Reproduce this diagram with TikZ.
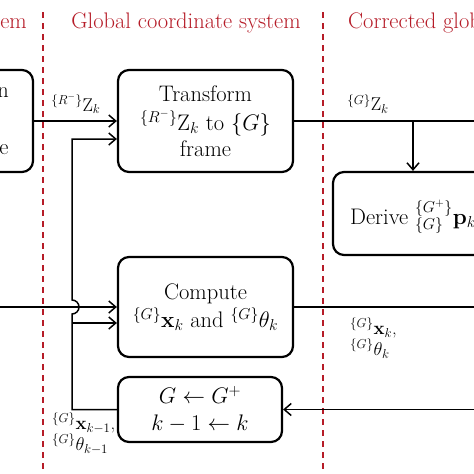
\RequirePackage{fix-cm}
\documentclass[tikz,border=0pt]{standalone}
\usetikzlibrary{arrows.meta}
\definecolor{dred}{RGB}{182,28,40}
\tikzset{
 box/.style={draw, line width=2.2pt, rounded corners=11pt, inner sep=0pt, align=center, font=\fontsize{22.5}{27}\selectfont},
 txt/.style={inner sep=0pt, font=\fontsize{22.5}{27}\selectfont},
 conn/.style={line width=1.5pt},
 arr/.style={conn, -{Straight Barb[length=7pt,width=12pt]}},
 lbl/.style={font=\fontsize{18.5}{21}\selectfont, inner sep=0pt, align=left},
 ttl/.style={text=dred, font=\fontsize{22.5}{26}\selectfont, inner sep=0pt},
 sep/.style={draw=dred, line width=1.5pt, dash pattern=on 6pt off 5pt}
}
\begin{document}
\begin{tikzpicture}[x=1pt,y=-1pt]
\useasboundingbox (0,0) rectangle (474,474);
\clip (0,0) rectangle (474,474);
\fill[white] (0,0) rectangle (474,474);
% titles
\node[ttl, anchor=base east] (t1) at (27,28) {em};
\node[ttl, anchor=base] (t2) at (186,28) {Global coordinate system};
\node[ttl, anchor=base west] (t3) at (348,28) {Corrected global coordinate system};
% separators
\draw[sep] (43,12) -- (43,472);
\draw[sep] (323,12) -- (323,472);
% boxes
\node[box, minimum width=63pt, minimum height=102pt] (L) at (1.5,121) {};
\node[txt] (Ln) at (3,93) {n};
\node[txt] (Le) at (4,150) {e};
\node[box, minimum width=175pt, minimum height=102pt] (T) at (205.5,121) {Transform\\[2pt]${}^{\{R^-\}}\mathrm{Z}_k$ to $\{G\}$\\[-1pt]frame};
\node[box, minimum width=175pt, minimum height=100pt] (C) at (205.5,307) {Compute\\[1pt]${}^{\{G\}}\mathbf{x}_k$ and ${}^{\{G\}}\theta_k$};
\node[box, minimum width=164pt, minimum height=65pt] (U) at (200,409.5) {$G\leftarrow G^+$\\$k-1\leftarrow k$};
\node[box, minimum width=290pt, minimum height=83pt] (D) at (478,213.5) {};
\node[txt, anchor=west] (Dt) at (350,217) {Derive ${}^{\{G^+\}}_{\{G\}}\mathbf{p}_k$};
% coordinates
\coordinate (a1) at (72,139);
\coordinate (a2) at (72,323);
\coordinate (cin) at (-5,307);
\coordinate (tout) at (480,121);
\coordinate (dj) at (413,121);
\coordinate (cout) at (480,307);
\coordinate (uin) at (480,409.5);
% connectors
\draw[arr] (L.east) -- (T.west);
\node[lbl] (l1) at (76,104) {${}^{\{R^-\}}\mathrm{Z}_k$};
\draw[arr] (U.west) -- (U.west -| a1) -- (72,314) arc[start angle=90, end angle=-90, radius=7] -- (a1) -- (a1 -| T.west);
\draw[arr] (a2) -- (a2 -| C.west);
\draw[arr] (cin) -- (C.west);
\draw[conn] (T.east) -- (tout);
\draw[arr] (dj) -- (dj |- D.north);
\node[lbl] (l2) at (368,104) {${}^{\{G\}}\mathrm{Z}_k$};
\draw[conn] (C.east) -- (cout);
\node[lbl, anchor=north west] (l3) at (350,318) {${}^{\{G\}}\mathbf{x}_k$,\\${}^{\{G\}}\theta_k$};
\draw[arr] (uin) -- (U.east);
\node[lbl, anchor=north west] (l4) at (52,413) {${}^{\{G\}}\mathbf{x}_{k-1}$,\\${}^{\{G\}}\theta_{k-1}$};
\end{tikzpicture}
\end{document}
